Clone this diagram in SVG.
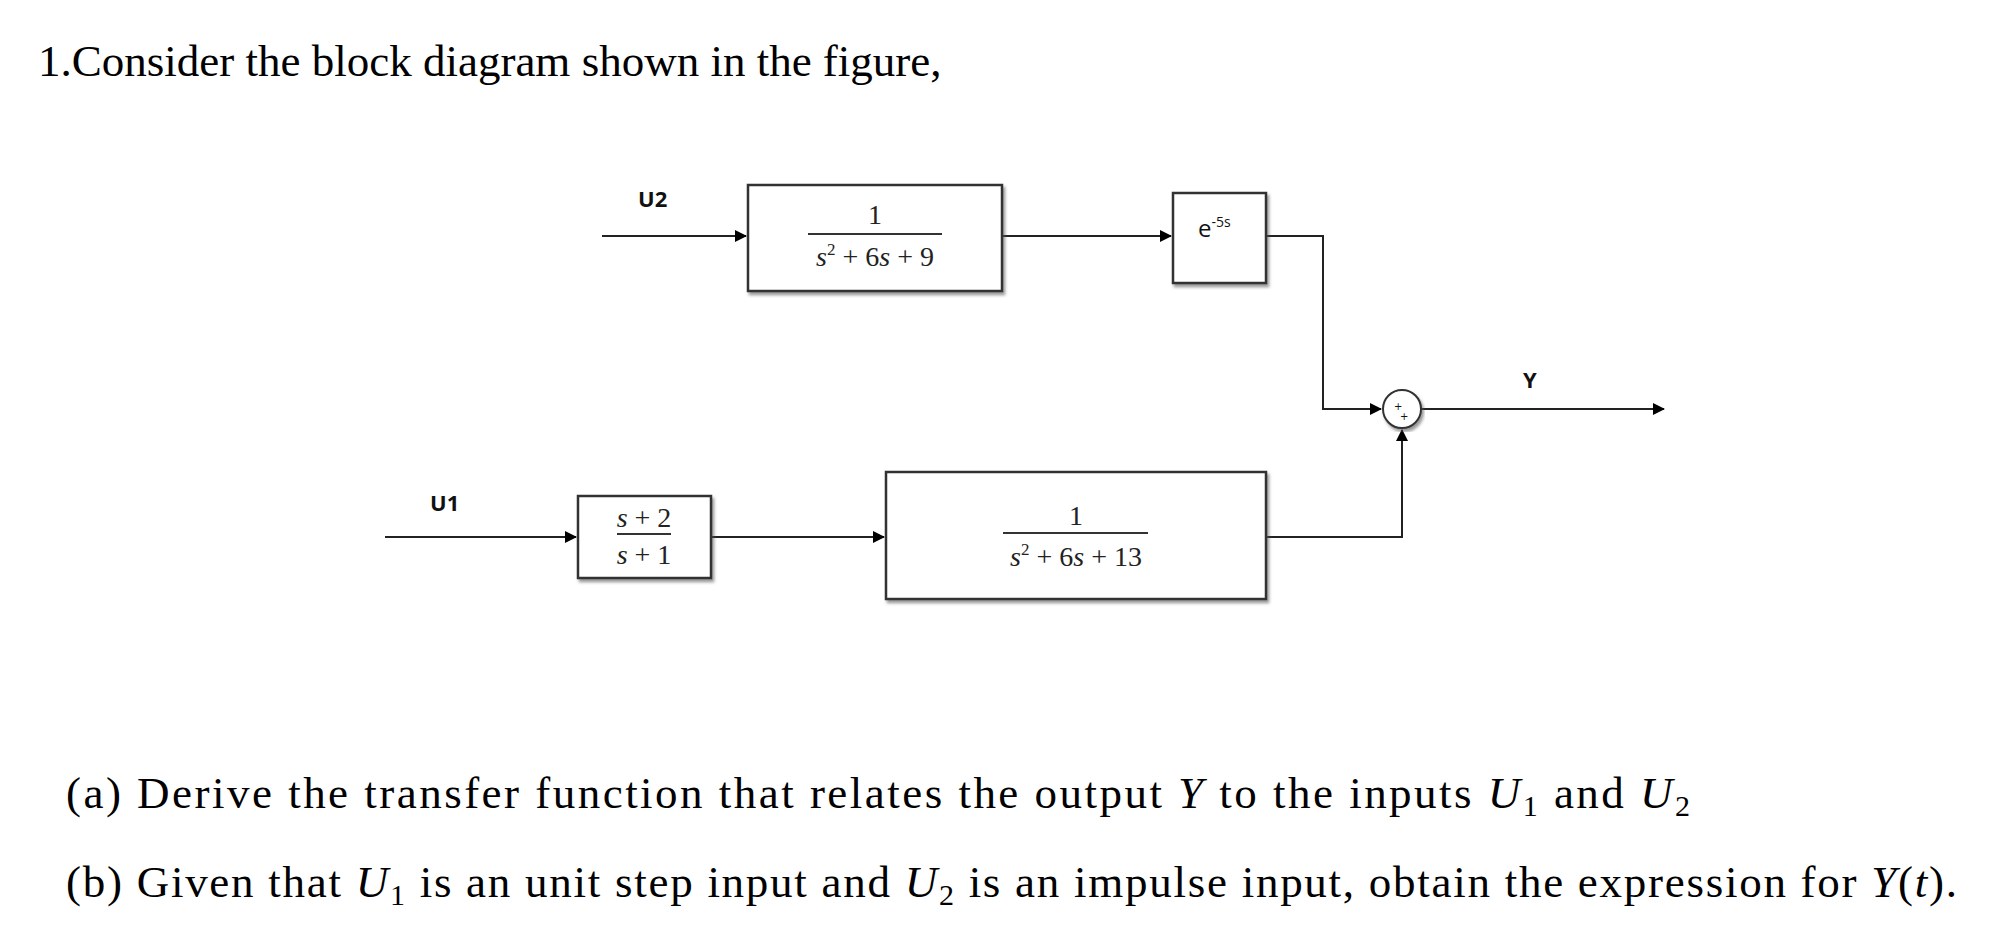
<svg xmlns="http://www.w3.org/2000/svg" width="1999" height="929" viewBox="0 0 1999 929">
<defs>
<marker id="ah" markerWidth="12" markerHeight="12" refX="11" refY="6" orient="auto" markerUnits="userSpaceOnUse"><path d="M0,0 L12,6 L0,12 z" fill="#000"/></marker>
<filter id="sh"><feDropShadow dx="2" dy="3" stdDeviation="1.5" flood-color="#555" flood-opacity="0.6"/></filter>
</defs>
<style>
.blk{fill:#fff;stroke:#333;stroke-width:2.5;filter:url(#sh)}
.ln{stroke:#222;stroke-width:2;fill:none}
.lab{font-family:"Open Sans","DejaVu Sans",sans-serif;font-size:22px;font-weight:bold;fill:#111}
.tf{font-family:"Liberation Serif","Times New Roman",serif;font-size:28px;fill:#222}
.tx{font-family:"Liberation Serif","Times New Roman",serif;font-size:45px;fill:#000}
</style>
<rect width="1999" height="929" fill="#fff"/>
<text class="tx" x="38" y="76">1.Consider the block diagram shown in the figure,</text>
<g id="connectors">
<path class="ln" d="M602,236 H746" marker-end="url(#ah)"/>
<path class="ln" d="M1002,236 H1171" marker-end="url(#ah)"/>
<path class="ln" d="M1266,236 H1323 V409 H1381" marker-end="url(#ah)"/>
<path class="ln" d="M1421,409 H1664" marker-end="url(#ah)"/>
<path class="ln" d="M385,537 H576" marker-end="url(#ah)"/>
<path class="ln" d="M711,537 H884" marker-end="url(#ah)"/>
<path class="ln" d="M1266,537 H1402 V430" marker-end="url(#ah)"/>
</g>
<g id="labels">
<text class="lab" x="638" y="207">U2</text>
<text class="lab" x="430" y="511">U1</text>
<text class="lab" x="1523" y="388">Y</text>
</g>
<g id="g1">
<rect class="blk" x="748" y="185" width="254" height="106"/>
<text class="tf" x="875" y="224" text-anchor="middle">1</text>
<line x1="808" y1="234" x2="942" y2="234" stroke="#333" stroke-width="2"/>
<text class="tf" x="875" y="266" text-anchor="middle"><tspan font-style="italic">s</tspan><tspan font-size="17" dy="-11">2</tspan><tspan dy="11"> + 6</tspan><tspan font-style="italic">s</tspan> + 9</text>
</g>
<g id="delay">
<rect class="blk" x="1173" y="193" width="93" height="90"/>
<text x="1198" y="237" font-family="Open Sans,DejaVu Sans,sans-serif" font-size="24" fill="#111">e<tspan font-size="14" dy="-10">-5s</tspan></text>
</g>
<g id="sum">
<circle cx="1402" cy="409" r="19" fill="#fff" stroke="#333" stroke-width="2" filter="url(#sh)"/>
<text x="1394" y="410" font-family="DejaVu Sans,sans-serif" font-size="10" fill="#111">+</text>
<text x="1400" y="420" font-family="DejaVu Sans,sans-serif" font-size="10" fill="#111">+</text>
</g>
<g id="g2">
<rect class="blk" x="578" y="496" width="133" height="82"/>
<text class="tf" x="644" y="527" text-anchor="middle"><tspan font-style="italic">s</tspan> + 2</text>
<line x1="617" y1="534" x2="671" y2="534" stroke="#333" stroke-width="2"/>
<text class="tf" x="644" y="564" text-anchor="middle"><tspan font-style="italic">s</tspan> + 1</text>
</g>
<g id="g3">
<rect class="blk" x="886" y="472" width="380" height="127"/>
<text class="tf" x="1076" y="525" text-anchor="middle">1</text>
<line x1="1003" y1="533" x2="1148" y2="533" stroke="#333" stroke-width="2"/>
<text class="tf" x="1076" y="566" text-anchor="middle"><tspan font-style="italic">s</tspan><tspan font-size="17" dy="-11">2</tspan><tspan dy="11"> + 6</tspan><tspan font-style="italic">s</tspan> + 13</text>
</g>
<text class="tx" x="66" y="808" textLength="1624">(a)  Derive the transfer function that relates the output <tspan font-style="italic">Y</tspan> to the inputs <tspan font-style="italic">U</tspan><tspan font-size="30" dy="8">1</tspan><tspan dy="-8"> and </tspan><tspan font-style="italic">U</tspan><tspan font-size="30" dy="8">2</tspan></text>
<text class="tx" x="66" y="897" textLength="1891">(b)  Given that <tspan font-style="italic">U</tspan><tspan font-size="30" dy="8">1</tspan><tspan dy="-8"> is an unit step input and </tspan><tspan font-style="italic">U</tspan><tspan font-size="30" dy="8">2</tspan><tspan dy="-8"> is an impulse input, obtain the expression for </tspan><tspan font-style="italic">Y</tspan>(<tspan font-style="italic">t</tspan>).</text>
</svg>
